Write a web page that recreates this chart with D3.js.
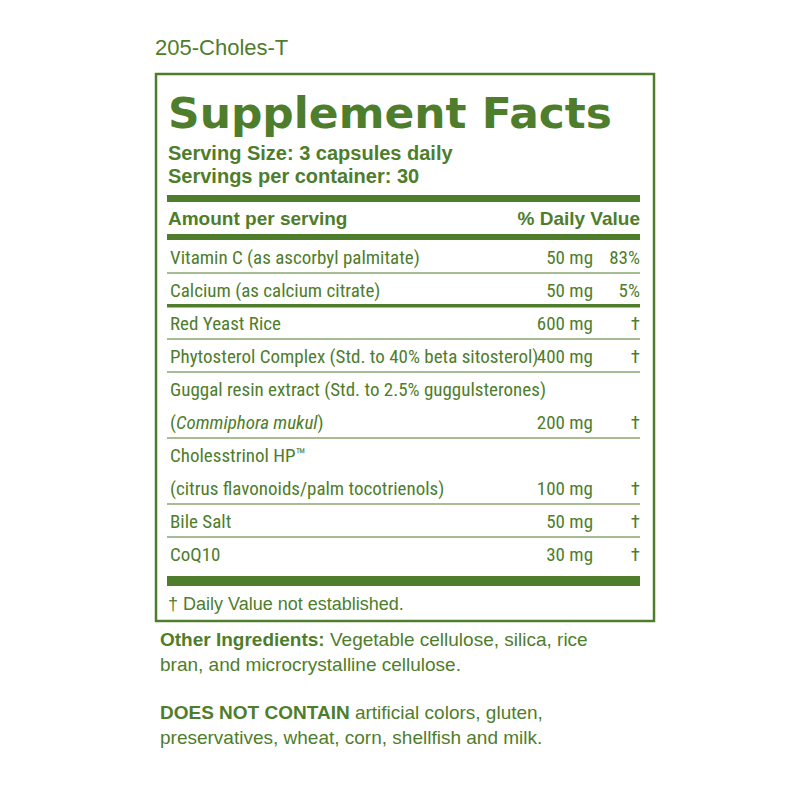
<!DOCTYPE html>
<html><head><meta charset="utf-8">
<script src="https://cdn.jsdelivr.net/npm/d3@7"></script>
<style>body{margin:0;background:#fff}</style></head>
<body><svg id="c" width="800" height="800"></svg>
<script>
const code = "205-Choles-T";
const title = "Supplement Facts";
const servingLines = ["Serving Size: 3 capsules daily", "Servings per container: 30"];
const headerLeft = "Amount per serving", headerRight = "% Daily Value";
const nameLine1 = ["Vitamin C (as ascorbyl palmitate)", "Calcium (as calcium citrate)", "Red Yeast Rice", "Phytosterol Complex (Std. to 40% beta sitosterol)", "Guggal resin extract (Std. to 2.5% guggulsterones)", "Cholesstrinol HP™", "Bile Salt", "CoQ10"];
const nameLine2 = [null, null, null, null, "Commiphora mukul", "(citrus flavonoids/palm tocotrienols)", null, null];
const amounts = ["50 mg", "50 mg", "600 mg", "400 mg", "200 mg", "100 mg", "50 mg", "30 mg"];
const dv = ["83%", "5%", "†", "†", "†", "†", "†", "†"];
const thickAfter = [false, true, false, false, false, false, false, false];
const footnote = "† Daily Value not established.";

const G = "#4e7d2b";
const svg = d3.select("#c");
const narrow = "'Liberation Sans Narrow','Roboto Condensed','Arial Narrow',sans-serif";
const sans = "'Liberation Sans',Arial,sans-serif";

svg.append("text").attr("x",155).attr("y",55).attr("fill",G).attr("font-family",sans).attr("font-size",22).text(code);
svg.append("rect").attr("x",156).attr("y",74).attr("width",498).attr("height",547).attr("fill","none").attr("stroke",G).attr("stroke-width",2.5);
svg.append("text").attr("x",168).attr("y",128).attr("fill",G).attr("font-family","'DejaVu Sans',sans-serif").attr("font-weight",900).attr("font-size",42).attr("textLength",444).attr("lengthAdjust","spacingAndGlyphs").text(title);
servingLines.forEach((s,i)=>svg.append("text").attr("x",168).attr("y",160+i*23).attr("fill",G).attr("font-family",sans).attr("font-weight",700).attr("font-size",20).text(s));
const L=167,R=640;
const bar=(yy,h)=>svg.append("rect").attr("x",L).attr("y",yy).attr("width",R-L).attr("height",h).attr("fill",G);
bar(195,7);
svg.append("text").attr("x",168).attr("y",225).attr("fill",G).attr("font-family",sans).attr("font-weight",900).attr("font-size",19).text(headerLeft);
svg.append("text").attr("x",R).attr("y",225).attr("text-anchor","end").attr("fill",G).attr("font-family",sans).attr("font-weight",900).attr("font-size",19).text(headerRight);
bar(234,6);

const lineH = 33, rowTop = 240;
const rows = nameLine1.map((n,i)=>({n, n2:nameLine2[i], a:amounts[i], d:dv[i], lines: nameLine2[i]?2:1, thick:thickAfter[i]}));
let cum = 0;
rows.forEach(r=>{ r.start=cum; cum+=r.lines; r.end=cum; });
const y = d3.scaleLinear().domain([0,cum]).range([rowTop, rowTop+cum*lineH]);
const ts = {fill:G,"font-family":narrow,"font-size":19};
const styl = t=>{Object.entries(ts).forEach(([k,v])=>t.attr(k,v)); return t;};
rows.forEach((r,i)=>{
  const g = svg.append("g");
  styl(g.append("text").attr("x",170).attr("y",y(r.start)+24)).text(r.n);
  const last = y(r.end)-9;
  if(r.n2){
    const t2 = styl(g.append("text").attr("x",170).attr("y",last));
    if(i===4){ t2.append("tspan").text("("); t2.append("tspan").attr("font-style","italic").text(r.n2); t2.append("tspan").text(")"); }
    else t2.text(r.n2);
  }
  styl(g.append("text").attr("x",593).attr("y",last).attr("text-anchor","end")).text(r.a);
  styl(g.append("text").attr("x",R).attr("y",last).attr("text-anchor","end")).text(r.d);
  if(i<rows.length-1){
    if(r.thick) bar(y(r.end)-2,3.5);
    else svg.append("line").attr("x1",L).attr("x2",R).attr("y1",y(r.end)).attr("y2",y(r.end)).attr("stroke",G).attr("stroke-width",1);
  }
});
bar(y(cum)+6,10);
svg.append("text").attr("x",168).attr("y",610).attr("fill",G).attr("font-family",sans).attr("font-size",18).text(footnote);

const para=(yy,bold,lines)=>{
  lines.forEach((ln,i)=>{
    const t=svg.append("text").attr("x",160).attr("y",yy+i*25).attr("fill",G).attr("font-family",sans).attr("font-size",19);
    if(i===0){t.append("tspan").attr("font-weight",700).text(bold);}
    t.append("tspan").text(ln);
  });
};
para(646,"Other Ingredients:",[" Vegetable cellulose, silica, rice","bran, and microcrystalline cellulose."]);
para(719,"DOES NOT CONTAIN",[" artificial colors, gluten,","preservatives, wheat, corn, shellfish and milk."]);
</script></body></html>
